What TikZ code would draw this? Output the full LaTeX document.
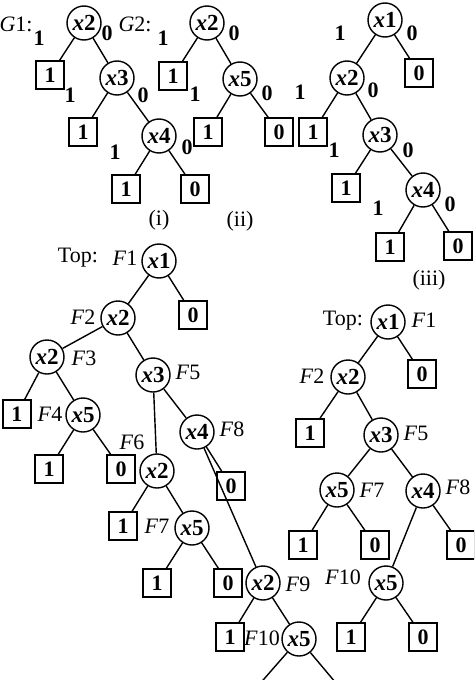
\documentclass[tikz,border=0pt]{standalone}
\usepackage{fontspec}
\setmainfont{Liberation Serif}

\newcommand\bddtextstyle{\fontsize{22}{26}\selectfont}
\newcommand\bddvartextstyle{\fontsize{23}{26}\selectfont}
\newcommand\bddvar[1]{\textbf{\textit{x}#1}}
\newcommand\bddfun[1]{\textit{F}#1}
\tikzset{
  var/.style={circle, draw, line width=1.4pt, minimum size=34pt, inner sep=0pt, font=\bddvartextstyle},
  leaf/.style={rectangle, draw, line width=1.4pt, minimum size=28pt, inner sep=0pt, font=\bddtextstyle\bfseries},
  edgelab/.style={inner sep=0pt, font=\bddtextstyle\bfseries},
  namelab/.style={inner sep=0pt, font=\bddtextstyle},
  arc/.style={line width=1.4pt}
}

\begin{document}
\begin{tikzpicture}[x=1pt, y=-1pt]
    \useasboundingbox (0, 0) rectangle (474, 680) ;
    \clip (0, 0) rectangle (474, 680) ;
    % (i)
    \node[namelab] (ganame) at (16, 24) {\textit{G}1:} ;
    \node[var] (gax2) at (84, 23) {\bddvar{2}} ;
    \node[leaf] (gaone) at (50, 75) {1} ;
    \node[var] (gax3) at (117, 78) {\bddvar{3}} ;
    \node[leaf] (gatwo) at (83, 132) {1} ;
    \node[var] (gax4) at (159, 136) {\bddvar{4}} ;
    \node[leaf] (gathree) at (126, 189) {1} ;
    \node[leaf] (gazero) at (195, 189) {0} ;
    \node[edgelab] at (39, 38) {1} ;
    \node[edgelab] at (107, 33) {0} ;
    \node[edgelab] at (70, 95) {1} ;
    \node[edgelab] at (143, 95) {0} ;
    \node[edgelab] at (115, 152) {1} ;
    \node[edgelab] at (187, 147) {0} ;
    \node[namelab] (gacap) at (159, 220) {(i)} ;
    \draw[arc] (gax2) -- (gaone) ;
    \draw[arc] (gax2) -- (gax3) ;
    \draw[arc] (gax3) -- (gatwo) ;
    \draw[arc] (gax3) -- (gax4) ;
    \draw[arc] (gax4) -- (gathree) ;
    \draw[arc] (gax4) -- (gazero) ;
    % (ii)
    \node[namelab] (gbname) at (135, 24) {\textit{G}2:} ;
    \node[var] (gbx2) at (207, 23) {\bddvar{2}} ;
    \node[leaf] (gbone) at (173, 76) {1} ;
    \node[var] (gbx5) at (240, 79) {\bddvar{5}} ;
    \node[leaf] (gbtwo) at (208, 132) {1} ;
    \node[leaf] (gbzero) at (279, 132) {0} ;
    \node[edgelab] at (163, 38) {1} ;
    \node[edgelab] at (234, 33) {0} ;
    \node[edgelab] at (195, 94) {1} ;
    \node[edgelab] at (267, 93) {0} ;
    \node[namelab] (gbcap) at (240, 221) {(ii)} ;
    \draw[arc] (gbx2) -- (gbone) ;
    \draw[arc] (gbx2) -- (gbx5) ;
    \draw[arc] (gbx5) -- (gbtwo) ;
    \draw[arc] (gbx5) -- (gbzero) ;
    % (iii)
    \node[var] (gcx1) at (385, 20) {\bddvar{1}} ;
    \node[leaf] (gczero) at (419, 73) {0} ;
    \node[var] (gcx2) at (347, 78) {\bddvar{2}} ;
    \node[leaf] (gcone) at (313, 132) {1} ;
    \node[var] (gcx3) at (380, 135) {\bddvar{3}} ;
    \node[leaf] (gctwo) at (346, 188) {1} ;
    \node[var] (gcx4) at (423, 190) {\bddvar{4}} ;
    \node[leaf] (gcthree) at (390, 247) {1} ;
    \node[leaf] (gczerob) at (458, 246) {0} ;
    \node[edgelab] at (340, 33) {1} ;
    \node[edgelab] at (412, 33) {0} ;
    \node[edgelab] at (300, 92) {1} ;
    \node[edgelab] at (373, 90) {0} ;
    \node[edgelab] at (334, 150) {1} ;
    \node[edgelab] at (408, 150) {0} ;
    \node[edgelab] at (378, 208) {1} ;
    \node[edgelab] at (450, 204) {0} ;
    \node[namelab] (gccap) at (429, 280) {(iii)} ;
    \draw[arc] (gcx1) -- (gcx2) ;
    \draw[arc] (gcx1) -- (gczero) ;
    \draw[arc] (gcx2) -- (gcone) ;
    \draw[arc] (gcx2) -- (gcx3) ;
    \draw[arc] (gcx3) -- (gctwo) ;
    \draw[arc] (gcx3) -- (gcx4) ;
    \draw[arc] (gcx4) -- (gcthree) ;
    \draw[arc] (gcx4) -- (gczerob) ;
    % Top, left
    \node[namelab] (ltop) at (78, 258) {Top:} ;
    \node[var] (lfa) at (159, 261) {\bddvar{1}} ;
    \node[namelab] at (125, 258) {\bddfun{1}} ;
    \node[leaf] (lzeroa) at (193, 315) {0} ;
    \node[var] (lfb) at (118, 318) {\bddvar{2}} ;
    \node[namelab] at (83, 317) {\bddfun{2}} ;
    \node[var] (lfc) at (47, 357) {\bddvar{2}} ;
    \node[namelab] at (84, 358) {\bddfun{3}} ;
    \node[leaf] (lonea) at (17, 414) {1} ;
    \node[var] (lfd) at (83, 415) {\bddvar{5}} ;
    \node[namelab] at (50, 414) {\bddfun{4}} ;
    \node[leaf] (loneb) at (49, 469) {1} ;
    \node[leaf] (lzerob) at (121, 469) {0} ;
    \node[var] (lfe) at (153, 375) {\bddvar{3}} ;
    \node[namelab] at (188, 372) {\bddfun{5}} ;
    \node[var] (lfh) at (197, 432) {\bddvar{4}} ;
    \node[namelab] at (232, 429) {\bddfun{8}} ;
    \node[leaf] (lzeroc) at (231, 486) {0} ;
    \node[var] (lff) at (157, 471) {\bddvar{2}} ;
    \node[namelab] at (132, 442) {\bddfun{6}} ;
    \node[leaf] (lonec) at (123, 526) {1} ;
    \node[var] (lfg) at (192, 528) {\bddvar{5}} ;
    \node[namelab] at (157, 526) {\bddfun{7}} ;
    \node[leaf] (loned) at (157, 583) {1} ;
    \node[leaf] (lzerod) at (228, 583) {0} ;
    \node[var] (lfi) at (263, 583) {\bddvar{2}} ;
    \node[namelab] at (298, 584) {\bddfun{9}} ;
    \node[leaf] (lonee) at (230, 637) {1} ;
    \node[var] (lfj) at (299, 639) {\bddvar{5}} ;
    \node[namelab] at (262, 638) {\bddfun{10}} ;
    \coordinate (lcutl) at (250, 695) ;
    \coordinate (lcutr) at (346, 695) ;
    \draw[arc] (lfa) -- (lfb) ;
    \draw[arc] (lfa) -- (lzeroa) ;
    \draw[arc] (lfb) -- (lfc) ;
    \draw[arc] (lfb) -- (lfe) ;
    \draw[arc] (lfc) -- (lonea) ;
    \draw[arc] (lfc) -- (lfd) ;
    \draw[arc] (lfd) -- (loneb) ;
    \draw[arc] (lfd) -- (lzerob) ;
    \draw[arc] (lfe) -- (lff) ;
    \draw[arc] (lfe) -- (lfh) ;
    \draw[arc] (lfh) -- (lfi) ;
    \draw[arc] (lfh) -- (lzeroc) ;
    \draw[arc] (lff) -- (lonec) ;
    \draw[arc] (lff) -- (lfg) ;
    \draw[arc] (lfg) -- (loned) ;
    \draw[arc] (lfg) -- (lzerod) ;
    \draw[arc] (lfi) -- (lonee) ;
    \draw[arc] (lfi) -- (lfj) ;
    \draw[arc] (lfj) -- (lcutl) ;
    \draw[arc] (lfj) -- (lcutr) ;
    % Top, right
    \node[namelab] (rtop) at (343, 321) {Top:} ;
    \node[var] (rfa) at (388, 322) {\bddvar{1}} ;
    \node[namelab] at (424, 320) {\bddfun{1}} ;
    \node[leaf] (rzeroa) at (422, 374) {0} ;
    \node[var] (rfb) at (348, 377) {\bddvar{2}} ;
    \node[namelab] at (312, 376) {\bddfun{2}} ;
    \node[leaf] (ronea) at (310, 433) {1} ;
    \node[var] (rfe) at (381, 435) {\bddvar{3}} ;
    \node[namelab] at (416, 433) {\bddfun{5}} ;
    \node[var] (rfg) at (337, 490) {\bddvar{5}} ;
    \node[namelab] at (372, 490) {\bddfun{7}} ;
    \node[var] (rfh) at (423, 491) {\bddvar{4}} ;
    \node[namelab] at (458, 487) {\bddfun{8}} ;
    \node[leaf] (roneb) at (303, 545) {1} ;
    \node[leaf] (rzerob) at (375, 545) {0} ;
    \node[leaf] (rzeroc) at (461, 545) {0} ;
    \node[var] (rfj) at (386, 583) {\bddvar{5}} ;
    \node[namelab] at (343, 577) {\bddfun{10}} ;
    \node[leaf] (ronec) at (351, 637) {1} ;
    \node[leaf] (rzerod) at (423, 637) {0} ;
    \draw[arc] (rfa) -- (rfb) ;
    \draw[arc] (rfa) -- (rzeroa) ;
    \draw[arc] (rfb) -- (ronea) ;
    \draw[arc] (rfb) -- (rfe) ;
    \draw[arc] (rfe) -- (rfg) ;
    \draw[arc] (rfe) -- (rfh) ;
    \draw[arc] (rfg) -- (roneb) ;
    \draw[arc] (rfg) -- (rzerob) ;
    \draw[arc] (rfh) -- (rfj) ;
    \draw[arc] (rfh) -- (rzeroc) ;
    \draw[arc] (rfj) -- (ronec) ;
    \draw[arc] (rfj) -- (rzerod) ;
  \end{tikzpicture}
\end{document}
